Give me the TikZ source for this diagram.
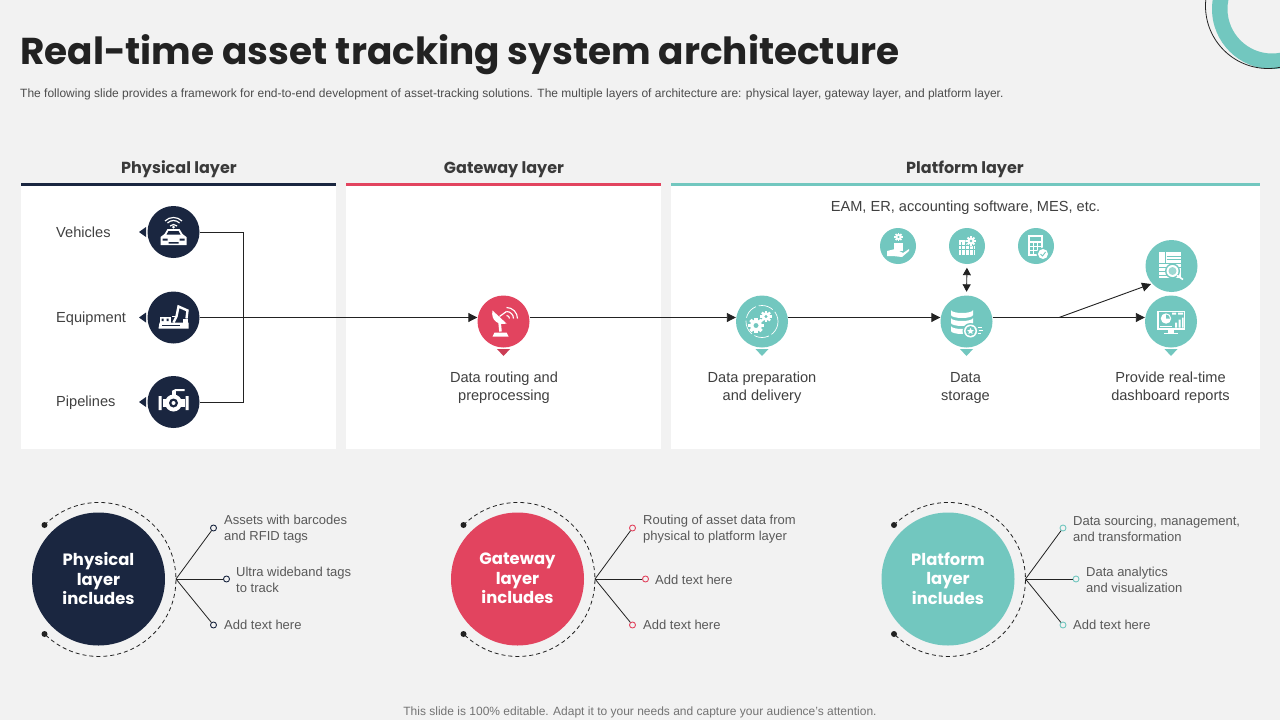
\documentclass[tikz,border=0pt]{standalone}
\usepackage{fontspec}
\setmainfont{Liberation Sans}
\newfontfamily\headfont{Poppins}
\usetikzlibrary{arrows.meta}
\definecolor{bgc}{HTML}{F2F2F2}
\definecolor{navy}{HTML}{1A2640}
\definecolor{rosec}{HTML}{E2445F}
\definecolor{tealc}{HTML}{72C7BF}
\definecolor{inkc}{HTML}{222222}
\definecolor{labc}{HTML}{404040}
\definecolor{itemc}{HTML}{595959}
\newcommand{\fs}[2]{\fontsize{#1}{#2}\selectfont}
\newcommand{\gearshape}[3]{% x y r
  \foreach \a in {0,45,...,315}{\draw[white,line width=#3*0.5pt] (#1,#2) ++(\a:#3*0.7) -- ++(\a:#3*0.5);}
  \fill[white,even odd rule] (#1,#2) circle[radius=#3*0.9] (#1,#2) circle[radius=#3*0.4];}
\tikzset{
  x=1pt,y=-1pt,
  disc/.style={circle,inner sep=0pt,minimum size=#1},
  bignav/.style={disc=52pt,fill=navy},
  bigrose/.style={disc=52pt,fill=rosec},
  bigteal/.style={disc=52pt,fill=tealc},
  smallteal/.style={disc=36pt,fill=tealc},
  panel/.style={fill=white,draw=none},
  bar/.style={line width=3pt},
  heading/.style={font=\headfont\bfseries\fs{16}{20},text=labc!90!black,inner sep=0pt,anchor=center},
  lab/.style={font=\fs{14.6}{18},text=labc,inner sep=0pt,align=center},
  item/.style={font=\fs{13}{16},text=itemc,inner sep=0pt,anchor=west,align=left},
  conn/.style={draw=inkc,line width=0.9pt},
  arr/.style={conn,-{Triangle[length=9pt,width=9pt]}},
  darr/.style={conn,{Triangle[length=7.5pt,width=8pt]}-{Triangle[length=7.5pt,width=8pt]}},
  big/.style={font=\headfont\bfseries\fs{16.4}{19.5},text=white,align=center,inner sep=0pt},
  ring/.style={circle,inner sep=0pt,minimum size=6pt,fill=bgc,draw=#1,line width=0.9pt},
  spoke/.style={draw=inkc,line width=0.8pt},
  dashring/.style={draw=inkc,line width=0.8pt,dash pattern=on 4pt off 3pt},
  dotend/.style={circle,inner sep=0pt,minimum size=6pt,fill=inkc},
  carIcon/.pic={
    \fill[white] (-13,13) -- (-13,5) -- (-9,2) -- (-6,-3) -- (6,-3) -- (9,2) -- (13,5) -- (13,13) -- cycle;
    \fill[navy] (-5,-1) -- (5,-1) -- (7,2.5) -- (-7,2.5) -- cycle;
    \fill[navy] (-11,6.5) rectangle (-6,8.5) (6,6.5) rectangle (11,8.5) (-5,10) rectangle (5,11.5);
    \draw[white,line width=1.2pt] (-3.5,-6) arc[start angle=-135,end angle=-45,radius=5];
    \draw[white,line width=1.2pt] (-6,-9) arc[start angle=-135,end angle=-45,radius=8.5];
    \draw[white,line width=1.2pt] (-8.5,-11) arc[start angle=-135,end angle=-45,radius=12];
    \fill[white] (0,-5) circle[radius=1.5];
  },
  robotIcon/.pic={
    \fill[white] (-15,11) -- (-14,5) -- (15,5) -- (15,11) -- cycle;
    \fill[white] (-14,-1) rectangle (-3,5);
    \fill[navy] (-12,1) rectangle (-10,3.5) (-7,1) rectangle (-5,3.5);
    \fill[white] (9,1) rectangle (14,8);
    \fill[navy] (-12,7) rectangle (6,8.5);
    \draw[white,line width=2.4pt] (0,5) -- (3,-1) -- (5,-11) -- (14,-7) -- (13,1);
    \draw[white,line width=1.4pt] (3,-1) -- (-2,-1);
  },
  valveIcon/.pic={
    \fill[white] (-15,-6) rectangle (-12,8) (12,-6) rectangle (15,8);
    \fill[white] (-11,-3) rectangle (11,5);
    \fill[white] (0,1) circle[radius=8.5];
    \fill[navy] (0,1) circle[radius=4.5];
    \fill[white] (0,1) circle[radius=2];
    \fill[white] (-2,-11) rectangle (2,-6);
    \fill[white] (-2,-11) -- (2,-13) -- (11,-13) -- (11,-11) -- cycle;
  },
  dishIcon/.pic={
    \fill[white] (-11,-11) .. controls (-13,-1) and (-5,4) .. (3,2) -- cycle;
    \draw[white,line width=1.2pt] (-4,-5) -- (3,-10);
    \draw[white,line width=2.6pt] (-4,0) -- (-3,10);
    \fill[white] (-11,15) -- (-9,11) -- (3,11) -- (5,15) -- cycle;
    \draw[white,line width=1.1pt] (3,-14) arc[start angle=-90,end angle=0,radius=11];
    \draw[white,line width=1.1pt] (3,-10) arc[start angle=-90,end angle=0,radius=7];
    \draw[white,line width=1.1pt] (3,-6) arc[start angle=-90,end angle=0,radius=3];
  },
  gearsIcon/.pic={
    \gearshape{-6}{4}{6.5}
    \gearshape{4}{-5}{4.8}
    \draw[white,line width=0.7pt,dash pattern=on 15pt off 3pt] (0,0) circle[radius=16];
  },
  dbIcon/.pic={
    \foreach \yy in {-11.5,-3.5,4.5}{
      \fill[white] (-15.5,\yy) arc[start angle=180,end angle=0,x radius=11,y radius=3] -- ++(0,5) arc[start angle=0,end angle=180,x radius=11,y radius=3] -- cycle;}
    \fill[tealc] (4,9.5) circle[radius=8];
    \fill[white] (4,9.5) circle[radius=6.5];
    \fill[tealc] (4,9.5) circle[radius=5];
    \fill[white] (4,6.3) -- (5,8.5) -- (7.3,8.7) -- (5.5,10.3) -- (6.1,12.5) -- (4,11.3) -- (1.9,12.5) -- (2.5,10.3) -- (0.7,8.7) -- (3,8.5) -- cycle;
    \draw[white,line width=0.7pt] (11,6) -- (15,6) (12,9) -- (16,9) (11,12) -- (14,12);
  },
  handIcon/.pic={
    \gearshape{0.5}{-9}{3.5}
    \fill[white] (-4,-3) rectangle (5,5);
    \fill[white] (-11,5) -- (-3,3) -- (5,7) -- (11,3) -- (11,5) -- (4,11) -- (-5,10) -- (-11,10) -- cycle;
  },
  planIcon/.pic={
    \fill[white] (-8,-6) rectangle (8,9);
    \foreach \xx in {-6,-2,2,6}{\draw[tealc,line width=0.6pt] (\xx,-4) -- (\xx,9);}
    \draw[tealc,line width=0.6pt] (-8,-1) -- (8,-1) (-8,3) -- (8,3);
    \fill[tealc] (4,-5) circle[radius=5.6];
    \gearshape{4}{-5}{4}
  },
  calcIcon/.pic={
    \fill[white] (-8,-11) rectangle (7,10);
    \fill[tealc] (-6,-9) rectangle (5,-5);
    \foreach \xx in {-6,-2,2}{\foreach \yy in {-3,1,5}{\fill[tealc] (\xx,\yy) rectangle ++(2.6,2.6);}}
    \fill[tealc] (7,8) circle[radius=6.5];
    \fill[white] (7,8) circle[radius=5];
    \draw[tealc,line width=0.9pt] (4.5,8) -- (6.5,10) -- (9.5,6);
  },
  reportIcon/.pic={
    \fill[white] (-13,-14) rectangle (9,12);
    \draw[tealc,line width=0.8pt] (-6,-14) -- (-6,-3) (-5,-10) -- (9,-10) (-5,-6.5) -- (9,-6.5) (-13,-3) -- (9,-3) (-13,1) -- (9,1) (-13,5) -- (-5,5) (-13,9) -- (-5,9);
    \fill[tealc] (1,5) circle[radius=7.5];
    \fill[white] (1,5) circle[radius=6];
    \fill[tealc!70!white] (1,5) circle[radius=4];
    \draw[white,line width=1.6pt] (5.5,9.5) -- (11.5,13.5);
  },
  monitorIcon/.pic={
    \fill[white] (-14,-11) rectangle (14,8);
    \fill[tealc] (-12.5,-9.5) rectangle (12.5,6.5);
    \fill[white] (-3,8) rectangle (3,11);
    \fill[white] (-7,11) rectangle (7,12.5);
    \fill[white] (-5,-3) circle[radius=5.2];
    \fill[tealc] (-5,-3) -- (-5,-7) arc[start angle=-90,end angle=0,radius=4] -- cycle;
    \fill[white] (1,-9) rectangle (5,-7) (7,-9) rectangle (12,-7);
    \fill[white] (4,1) rectangle (6,6) (7.5,-2) rectangle (9.5,6) (11,-4) rectangle (12.5,6);
    \fill[white] (-11,4) rectangle (1,5.5);
  },
}
\begin{document}
\begin{tikzpicture}
\useasboundingbox (0,0) rectangle (1280,720);
\fill[bgc] (0,0) rectangle (1280,720);
% corner ornament
\begin{scope}
\clip (0,0) rectangle (1280,720);
\fill[tealc,even odd rule] (1272,9) circle[radius=60] (1272,9) circle[radius=44.5];
\draw[inkc,line width=0.8pt] (1268,6) circle[radius=62.5];
\end{scope}
% title
\node[anchor=west,inner sep=0pt,font=\headfont\bfseries\fs{37.4}{40},text=inkc] (title) at (20,55) {Real-time asset tracking system architecture};
\node[anchor=west,inner sep=0pt,font=\fs{12}{14},text=itemc!85!black] (sub) at (20,94.5) {The following slide provides a framework for end-to-end development of asset-tracking solutions. The multiple layers of architecture are: physical layer, gateway layer, and platform layer.};
% panels
\fill[panel] (21,185) rectangle (336,449);
\fill[panel] (346,185) rectangle (661,449);
\fill[panel] (671,185) rectangle (1260,449);
\draw[bar,navy] (21,184.5) -- (336,184.5);
\draw[bar,rosec] (346,184.5) -- (661,184.5);
\draw[bar,tealc] (671,184.5) -- (1260,184.5);
\node[heading] (h1) at (179,169.5) {Physical layer};
\node[heading] (h2) at (504,169.5) {Gateway layer};
\node[heading] (h3) at (965,169.5) {Platform layer};
% physical nodes
\node[bignav] (veh) at (173.5,232) {};
\node[bignav] (equ) at (173.5,317.5) {};
\node[bignav] (pip) at (173.5,402) {};
\pic at (veh) {carIcon};
\pic at (equ) {robotIcon};
\pic at (pip) {valveIcon};
\foreach \yy in {232,317.5,402}{\fill[navy] (146,\yy-5) -- (139,\yy) -- (146,\yy+5) -- cycle;}
\node[lab,anchor=west] (tveh) at (56,232.7) {Vehicles};
\node[lab,anchor=west] (tequ) at (56,318.5) {Equipment};
\node[lab,anchor=west] (tpip) at (56,403) {Pipelines};
% main flow nodes
\node[bigrose] (router) at (503.5,321.5) {};
\node[bigteal] (prep) at (762,321.5) {};
\node[bigteal] (store) at (966.5,321.5) {};
\node[bigteal] (dash) at (1171,321.5) {};
\node[bigteal] (report) at (1171.5,266) {};
\node[smallteal] (s1) at (898,246) {};
\node[smallteal] (s2) at (967,246) {};
\node[smallteal] (s3) at (1036,246) {};
\pic at (router) {dishIcon};
\pic at (prep) {gearsIcon};
\pic at (store) {dbIcon};
\pic at (dash) {monitorIcon};
\pic at (report) {reportIcon};
\pic at (s1) {handIcon};
\pic at (s2) {planIcon};
\pic at (s3) {calcIcon};
\fill[rosec!90!black] (497,349) -- (510,349) -- (503.5,356) -- cycle;
\foreach \xx in {762,966.5,1171}{\fill[tealc] (\xx-6.5,349) -- (\xx+6.5,349) -- (\xx,356) -- cycle;}
\node[lab] (trouter) at (504,387.5) {Data routing and\\preprocessing};
\node[lab] (tprep) at (762,387.5) {Data preparation\\and delivery};
\node[lab] (tstore) at (965.5,387.5) {Data\\storage};
\node[lab] (tdash) at (1170.5,387.5) {Provide real-time\\dashboard reports};
\node[lab] (eam) at (965.5,207.5) {EAM, ER, accounting software, MES, etc.};
% connectors
\coordinate (brk) at (243.5,317.5);
\coordinate (fork) at (1059,317.5);
\draw[conn] (veh.east) -- (veh.east -| brk) -- (pip.east -| brk) -- (pip.east);
\draw[arr] (equ.east) -- (equ.east -| router.west);
\draw[arr] (equ.east -| router.east) -- (equ.east -| prep.west);
\draw[arr] (equ.east -| prep.east) -- (equ.east -| store.west);
\draw[arr] (equ.east -| store.east) -- (equ.east -| dash.west);
\coordinate (forkend) at (1151,284);
\draw[arr] (fork) -- (forkend);
\draw[darr,shorten >=3.5pt,shorten <=3.5pt] (s2.south) -- (store.north);
% bottom groups
\foreach \nm/\cx/\hx/\colr/\labl in {a/98.5/176/navy/Physical,b/517.5/595/rosec/Gateway,c/948/1025.5/tealc/Platform}{
  \node[disc=133pt,fill=\colr] (cir\nm) at (\cx,579) {};
  \node[big] (txt\nm) at (\cx,578.5) {\labl\\layer\\includes};
  \node[dotend] (dt\nm) at (\cx-54,525) {};
  \node[dotend] (db\nm) at (\cx-54,634) {};
  \draw[dashring] (dt\nm.center) arc[start angle=-135,end angle=135,radius=77];
  \coordinate (hub\nm) at (\hx,579);
  \node[ring=\colr] (ra\nm) at (\hx+37.5,528) {};
  \node[ring=\colr] (rb\nm) at (\hx+50.5,579) {};
  \node[ring=\colr] (rc\nm) at (\hx+37.5,625) {};
  \draw[spoke] (hub\nm) -- (ra\nm);
  \draw[spoke] (hub\nm) -- (rb\nm);
  \draw[spoke] (hub\nm) -- (rc\nm);
}
\node[item] (ia1) at (224,529.5) {Assets with barcodes\\and RFID tags};
\node[item] (ia2) at (236,579.5) {Ultra wideband tags\\to track};
\node[item] (ia3) at (224,624.5) {Add text here};
\node[item] (ib1) at (643,529.5) {Routing of asset data from\\physical to platform layer};
\node[item] (ib2) at (655,579.5) {Add text here};
\node[item] (ib3) at (643,624.5) {Add text here};
\node[item] (ic1) at (1073,528.5) {Data sourcing, management,\\and transformation};
\node[item] (ic2) at (1086,579.5) {Data analytics\\and visualization};
\node[item] (ic3) at (1073,624.5) {Add text here};
\node[inner sep=0pt,font=\fs{12}{14},text=black!55] (foot) at (640,712) {This slide is 100\% editable. Adapt it to your needs and capture your audience's attention.};
\end{tikzpicture}
\end{document}
